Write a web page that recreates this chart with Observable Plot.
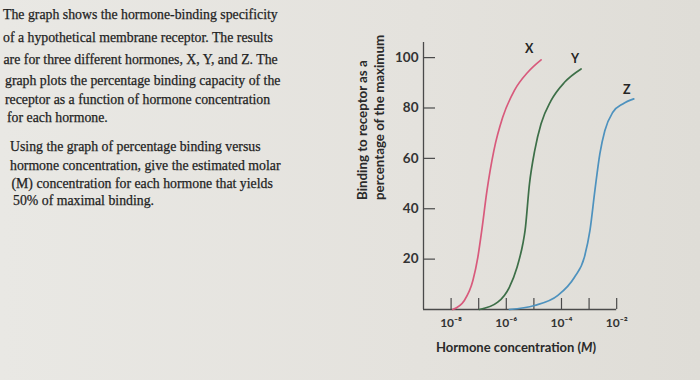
<!DOCTYPE html>
<html>
<head>
<meta charset="utf-8">
<script src="https://cdn.jsdelivr.net/npm/d3@7"></script>
<script src="https://cdn.jsdelivr.net/npm/@observablehq/plot@0.6"></script>
<style>
  html, body { margin: 0; padding: 0; }
  body { width: 700px; height: 380px; overflow: hidden;
         background: linear-gradient(to right, #e9e8e4, #e4e2dd 60%, #dfddd7); }
  #wrap { position: relative; width: 700px; height: 380px; }
  #chart { position: absolute; left: 0; top: 0; }
  .line { position: absolute; white-space: nowrap; font-family: "Liberation Serif", "Times New Roman", serif;
          color: #1f1f1f; font-size: 13.8px; line-height: 16px; -webkit-text-stroke: 0.25px #1f1f1f; }
  #xtitle { position: absolute; left: 396px; width: 240px; top: 339px; text-align: center;
            font-family: Lato, "Open Sans", sans-serif; font-weight: 700; font-size: 13px; color: #2a2a2a; }
</style>
</head>
<body>
<div id="wrap">
  <div id="chart"></div>
  <div id="xtitle">Hormone concentration (<i>M</i>)</div>
</div>
<script>
// ---- data ----
const hormones = ["X", "Y", "Z"];
// log10 of molar concentration, and % binding
const xLogConc = [-7.94, -7.52, -7.21, -7.03, -6.89, -6.70, -6.45, -6.13, -5.71, -5.22, -4.74];
const xBinding = [0, 3.6, 11.5, 20.8, 31.3, 47.2, 63.1, 76.3, 86.9, 94.2, 99.1];
const yLogConc = [-6.97, -6.31, -5.89, -5.61, -5.40, -5.32, -5.16, -4.97, -4.74, -4.38, -3.89, -3.29];
const yBinding = [0, 2.9, 8.8, 16.8, 26.1, 31.3, 49.9, 63.1, 73.7, 82.9, 90.2, 95.5];
const zLogConc = [-5.89, -4.98, -4.13, -3.53, -3.17, -2.97, -2.79, -2.61, -2.43, -2.14, -1.78, -1.38];
const zBinding = [0, 1.6, 5.6, 12.8, 20.8, 31.3, 47.2, 61.8, 71.0, 78.3, 81.6, 83.6];

const xTickValues = [1e-8, 1e-7, 1e-6, 1e-5, 1e-4, 1e-3, 1e-2];
const xTickLabels = [1e-8, 1e-6, 1e-4, 1e-2];
const yTickValues = [20, 40, 60, 80, 100];
const yTitle = "Binding to receptor as a\npercentage of the maximum";

const paragraph1 = [
  "The graph shows the hormone-binding specificity",
  "of a hypothetical membrane receptor. The results",
  "are for three different hormones, X, Y, and Z. The",
  "graph plots the percentage binding capacity of the",
  "receptor as a function of hormone concentration",
  "for each hormone."
];
const paragraph2 = [
  "Using the graph of percentage binding versus",
  "hormone concentration, give the estimated molar",
  "(M) concentration for each hormone that yields",
  "50% of maximal binding."
];

// ---- build table ----
const series = {X: [xLogConc, xBinding], Y: [yLogConc, yBinding], Z: [zLogConc, zBinding]};
const rows = hormones.flatMap(h => series[h][0].map((lg, i) => ({hormone: h, conc: Math.pow(10, lg), pct: series[h][1][i]})));
const colors = {X: "#d85a7c", Y: "#3d6f48", Z: "#4e92be"};

const W = 700, H = 380;
const mL = 423, mR = 64.5, mT = 42, mB = 71;
const frameW = W - mL - mR, frameH = H - mT - mB;
const xDomain = [1e-9, Math.pow(10, -1.3)];
const yDomain = [0, 106];
const axisColor = "#4a4a4a";

const sup = {"-": "\u207B", "0": "\u2070", "1": "\u00B9", "2": "\u00B2", "3": "\u00B3", "4": "\u2074", "5": "\u2075", "6": "\u2076", "7": "\u2077", "8": "\u2078", "9": "\u2079"};
const fmtPow = d => "10" + String(Math.round(Math.log10(d))).split("").map(c => sup[c]).join("");

const labelOffsets = {X: [-12, -11], Y: [-6, -10], Z: [-7, -9]};

const plot = Plot.plot({
  width: W, height: H,
  marginLeft: mL, marginRight: mR, marginTop: mT, marginBottom: mB,
  style: {background: "transparent", overflow: "visible"},
  x: {type: "log", domain: xDomain, axis: null},
  y: {domain: yDomain, axis: null},
  marks: [
    // axis lines
    Plot.ruleX([xDomain[0]], {y1: () => 0, y2: () => yDomain[1], stroke: axisColor, strokeWidth: 1.3}),
    Plot.ruleY([0], {x1: () => xDomain[0], x2: () => 1e-2, stroke: axisColor, strokeWidth: 1.3}),
    // inward tick marks
    Plot.tickX(xTickValues, {x: d => d, insetTop: frameH - 11, stroke: axisColor, strokeWidth: 1.2}),
    Plot.tickY(yTickValues, {y: d => d, insetRight: frameW - 12, stroke: axisColor, strokeWidth: 1.2}),
    // tick labels
    Plot.axisY(yTickValues, {anchor: "left", tickSize: 0, tickPadding: 5, label: null,
      fontSize: 13.5, fontFamily: "Lato, 'Open Sans', sans-serif", fontWeight: 700, fill: "#333"}),
    Plot.axisX(xTickLabels, {anchor: "bottom", tickSize: 0, tickPadding: 9, label: null, tickFormat: fmtPow,
      fontSize: 12, fontFamily: "Lato, 'Open Sans', sans-serif", fontWeight: 700, fill: "#333"}),
    // y title
    Plot.text([yTitle], {frameAnchor: "left", text: d => d, rotate: -90, dx: -53, dy: 24,
      lineHeight: 1.28, fontSize: 13.3, fontFamily: "Lato, 'Open Sans', sans-serif", fontWeight: 700, fill: "#2a2a2a"}),
    // curves
    ...hormones.map(h => Plot.line(rows.filter(r => r.hormone === h), {
      x: "conc", y: "pct", stroke: colors[h], strokeWidth: 1.7, curve: "monotone-x"})),
    // curve labels
    ...hormones.map(h => Plot.text(rows.filter(r => r.hormone === h), Plot.selectLast({
      x: "conc", y: "pct", text: "hormone", dx: labelOffsets[h][0], dy: labelOffsets[h][1],
      fontSize: 12.5, fontFamily: "Lato, 'Open Sans', sans-serif", fontWeight: 700, fill: "#262626"})))
  ]
});
document.getElementById("chart").appendChild(plot);

// ---- left text block ----
const wrap = document.getElementById("wrap");
const p1Y = [15, 37.5, 60, 81, 99.5, 117.5];
const p1X = [3, 3, 3.5, 5, 5, 7];
const p2Y = [147, 165.5, 183.5, 201];
const p2X = [10, 10, 11.5, 13];
function addLines(lines, ys, xs) {
  lines.forEach((t, i) => {
    const d = document.createElement("div");
    d.className = "line";
    d.textContent = t;
    d.style.left = xs[i] + "px";
    d.style.top = (ys[i] - 8) + "px";
    wrap.appendChild(d);
  });
}
addLines(paragraph1, p1Y, p1X);
addLines(paragraph2, p2Y, p2X);
</script>
</body>
</html>
